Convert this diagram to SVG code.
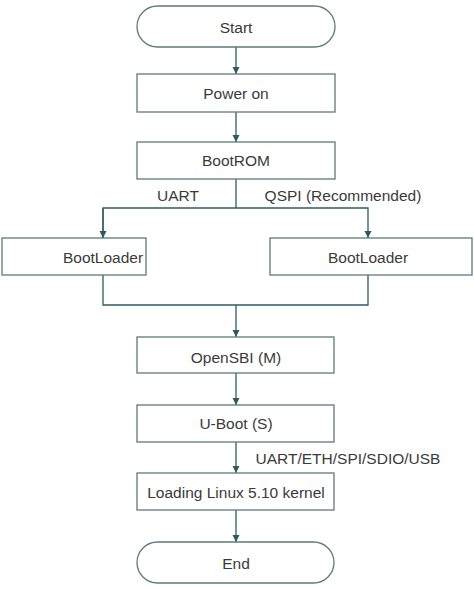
<svg xmlns="http://www.w3.org/2000/svg" width="474" height="589" viewBox="0 0 474 589">
<style>
.box{fill:#ffffff;stroke:#5e7a7a;stroke-width:1.3}
.lbl{font-family:"Liberation Sans",Arial,sans-serif;font-size:15.5px;fill:#3a3a3a;text-anchor:middle;dominant-baseline:central}
.edge{fill:none;stroke:#2f5b60;stroke-width:1.3}
</style>
<defs>
<marker id="arr" viewBox="0 0 10 10" refX="10" refY="5" markerWidth="7" markerHeight="8" markerUnits="userSpaceOnUse" orient="auto">
<path d="M0,0 L10,5 L0,10 z" fill="#2f5b60"/>
</marker>
</defs>
<rect width="474" height="589" fill="#ffffff"/>
<g id="connectors">
<line class="edge" x1="236" y1="47" x2="236" y2="74" marker-end="url(#arr)"/>
<line class="edge" x1="236" y1="112" x2="236" y2="142" marker-end="url(#arr)"/>
<polyline class="edge" points="236,179 236,208"/>
<polyline class="edge" points="103,238 103,208 368,208 368,238" marker-end="url(#arr)"/>
<line class="edge" x1="103" y1="208" x2="103" y2="238" marker-end="url(#arr)"/>
<polyline class="edge" points="103,275 103,305 368,305 368,275"/>
<line class="edge" x1="236" y1="305" x2="236" y2="337" marker-end="url(#arr)"/>
<line class="edge" x1="236" y1="373" x2="236" y2="405" marker-end="url(#arr)"/>
<line class="edge" x1="236" y1="442" x2="236" y2="473" marker-end="url(#arr)"/>
<line class="edge" x1="236" y1="510" x2="236" y2="542" marker-end="url(#arr)"/>
<text class="lbl" x="178" y="195">UART</text>
<text class="lbl" x="343" y="195">QSPI (Recommended)</text>
<text class="lbl" x="348" y="458">UART/ETH/SPI/SDIO/USB</text>
</g>
<g id="start">
<rect class="box" x="137" y="6" width="198" height="41" rx="20.5"/>
<text class="lbl" x="236" y="27">Start</text>
</g>
<g id="poweron">
<rect class="box" x="137" y="74" width="198" height="38"/>
<text class="lbl" x="236" y="93">Power on</text>
</g>
<g id="bootrom">
<rect class="box" x="137" y="142" width="198" height="37"/>
<text class="lbl" x="236" y="160">BootROM</text>
</g>
<g id="bootloader_uart">
<rect class="box" x="2" y="238" width="144" height="37"/>
<text class="lbl" x="103" y="257">BootLoader</text>
</g>
<g id="bootloader_qspi">
<rect class="box" x="270" y="238" width="202" height="37"/>
<text class="lbl" x="368" y="257">BootLoader</text>
</g>
<g id="opensbi">
<rect class="box" x="137" y="337" width="197" height="36"/>
<text class="lbl" x="236" y="357">OpenSBI (M)</text>
</g>
<g id="uboot">
<rect class="box" x="137" y="405" width="197" height="37"/>
<text class="lbl" x="236" y="423">U-Boot (S)</text>
</g>
<g id="linux">
<rect class="box" x="137" y="473" width="197" height="37"/>
<text class="lbl" x="236" y="492">Loading Linux 5.10 kernel</text>
</g>
<g id="end">
<rect class="box" x="137" y="542" width="197" height="41" rx="20.5"/>
<text class="lbl" x="236" y="563">End</text>
</g>
</svg>
